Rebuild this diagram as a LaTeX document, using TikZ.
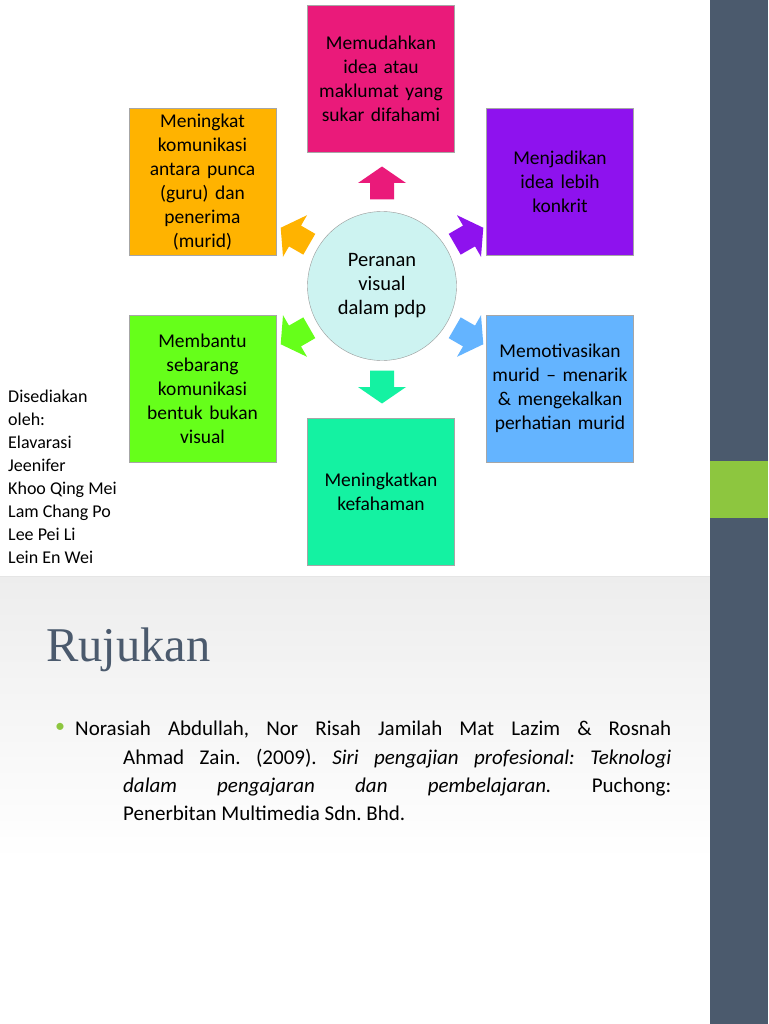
\documentclass[tikz,border=0pt]{standalone}
\usepackage{fontspec}
\setmainfont{Carlito}
\newfontfamily\titlefont{Liberation Serif}
\usetikzlibrary{calc}
\frenchspacing
\definecolor{slate}{HTML}{4B5A6D}
\definecolor{cpink}{HTML}{EA1A7A}
\definecolor{corange}{HTML}{FFB300}
\definecolor{cpurple}{HTML}{8E12EE}
\definecolor{cgreen}{HTML}{66FF1A}
\definecolor{cblue}{HTML}{64B4FF}
\definecolor{cteal}{HTML}{14F2A2}
\definecolor{ccirc}{HTML}{CDF3F1}
\definecolor{bline}{HTML}{8DC63F}
\tikzset{x=1pt,y=-1pt,
 boxn/.style={draw=black!35,line width=0.6pt,minimum width=147pt,minimum height=147pt,align=center,text width=145pt,font=\fontsize{19.5}{24}\selectfont,inner sep=0pt},
 lst/.style={anchor=base west,font=\fontsize{18}{20}\selectfont,inner sep=0pt},
 ref/.style={anchor=base west,font=\fontsize{21}{24}\selectfont,inner sep=0pt}}
\newcommand\blockarrow[3]{\fill[#3,shift={(#1)},rotate=#2] (-16.5,-12) -- (0,-12) -- (0,-24) -- (16.5,0) -- (0,24) -- (0,12) -- (-16.5,12) -- cycle;}
\begin{document}
\begin{tikzpicture}
\useasboundingbox (0,0) rectangle (768,1024);
\fill[white] (0,0) rectangle (710,1024);
\shade[top color=black!7,bottom color=white] (0,577) rectangle (710,860);
\draw[black!10] (0,576) -- (710,576);
\fill[slate] (710,0) rectangle (768,1024);
\fill[bline] (710,461) rectangle (768,518);
\node[boxn,fill=cpink] (b1) at (381,79) {Memudahkan\\idea atau\\maklumat yang\\sukar difahami};
\node[boxn,fill=corange] (b2) at (202.5,182) {Meningkat\\komunikasi\\antara punca\\(guru) dan\\penerima\\(murid)};
\node[boxn,fill=cpurple] (b3) at (560,182) {Menjadikan\\idea lebih\\konkrit};
\node[boxn,fill=cgreen] (b4) at (202.5,388.5) {Membantu\\sebarang\\komunikasi\\bentuk bukan\\visual};
\node[boxn,fill=cblue] (b5) at (560,388.5) {Memotivasikan\\murid – menarik\\\& mengekalkan\\perhatian murid};
\node[boxn,fill=cteal] (b6) at (381,492) {Meningkatkan\\kefahaman};
\node[circle,draw=black!40,fill=ccirc,minimum size=149pt,align=center,font=\fontsize{20.5}{24}\selectfont] (c) at (382,286) {Peranan\\visual\\dalam pdp};
\blockarrow{$(c)+(0,-103)$}{90}{cpink}
\blockarrow{$(c)+(87,-50)$}{30}{cpurple}
\blockarrow{$(c)+(87,50)$}{-30}{cblue}
\blockarrow{$(c)+(0,101)$}{-90}{cteal}
\blockarrow{$(c)+(-87,50)$}{210}{cgreen}
\blockarrow{$(c)+(-87,-50)$}{150}{corange}
\node[lst] (l1) at (8,402) {Disediakan};
\node[lst] (l2) at (8,425) {oleh:};
\node[lst] (l3) at (8,448) {Elavarasi};
\node[lst] (l4) at (8,471) {Jeenifer};
\node[lst] (l5) at (8,494) {Khoo Qing Mei};
\node[lst] (l6) at (8,517) {Lam Chang Po};
\node[lst] (l7) at (8,540) {Lee Pei Li};
\node[lst] (l8) at (8,563) {Lein En Wei};
\node[anchor=west,inner sep=0pt,text=slate,font=\titlefont\fontsize{48.5}{52}\selectfont] (t) at (46,650) {Rujukan};
\node[anchor=west,inner sep=0pt,text=bline,font=\fontsize{20}{20}\selectfont] (bul) at (55,728) {•};
\node[ref] (r1) at (75,735) {\makebox[596pt][s]{Norasiah Abdullah, Nor Risah Jamilah Mat Lazim \& Rosnah}};
\node[ref] (r2) at (123,764) {\makebox[548pt][s]{Ahmad Zain. (2009). \textit{Siri pengajian profesional: Teknologi}}};
\node[ref] (r3) at (123,792) {\makebox[548pt][s]{\textit{dalam pengajaran dan pembelajaran.} Puchong:}};
\node[ref] (r4) at (123,820) {Penerbitan Multimedia Sdn. Bhd.};
\end{tikzpicture}
\end{document}
